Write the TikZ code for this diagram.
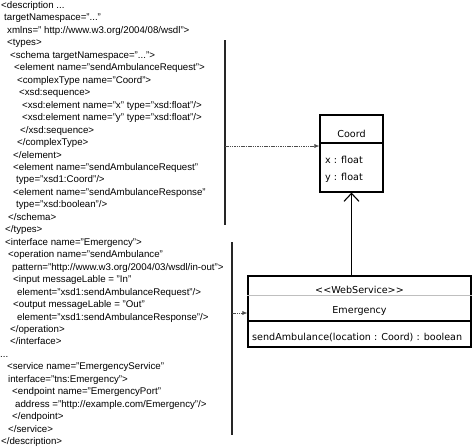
\documentclass[tikz,border=0pt]{standalone}
\usepackage{fontspec}
\setmainfont{Liberation Sans}
\newfontfamily\umlfont{DejaVu Sans}
\usetikzlibrary{arrows.meta}
\tikzset{
  code/.style={anchor=base west, inner sep=0pt, font=\fontsize{9.7}{12}\selectfont},
  umltext/.style={anchor=base, inner sep=0pt, font=\umlfont\fontsize{9.6}{12}\selectfont},
  umlleft/.style={anchor=base west, inner sep=0pt, font=\umlfont\fontsize{9.6}{12}\selectfont},
  umlbox/.style={draw, line width=1.1pt, inner sep=0pt},
  bracket/.style={line width=1.4pt, black!85},
  refarrow/.style={dash pattern=on 1.5pt off 0.8pt, line width=0.7pt, black!70, -{Latex[length=5pt,width=4pt]}},
  assoc/.style={line width=1.1pt, -{Straight Barb[length=8pt,width=15pt,line width=1.1pt]}}
}
\begin{document}
\begin{tikzpicture}[x=1pt,y=-1pt]
\useasboundingbox (0,0) rectangle (474,447);
\fill[white] (0,0) rectangle (474,447);
% code lines
\node[code] (l1)  at (1, 8.5) {<description ...};
\node[code] (l2)  at (4, 20.96) {targetNamespace="..."};
\node[code] (l3)  at (7, 33.42) {xmlns=" http://www.w3.org/2004/08/wsdl">};
\node[code] (l4)  at (7, 45.88) {<types>};
\node[code] (l5)  at (10, 58.34) {<schema targetNamespace="...">};
\node[code] (l6)  at (14, 70.80) {<element name="sendAmbulanceRequest">};
\node[code] (l7)  at (17, 83.26) {<complexType name="Coord">};
\node[code] (l8)  at (19, 95.72) {<xsd:sequence>};
\node[code] (l9)  at (22, 108.18) {<xsd:element name="x" type="xsd:float"/>};
\node[code] (l10) at (22, 120.64) {<xsd:element name="y" type="xsd:float"/>};
\node[code] (l11) at (20, 133.10) {</xsd:sequence>};
\node[code] (l12) at (17, 145.56) {</complexType>};
\node[code] (l13) at (13, 158.02) {</element>};
\node[code] (l14) at (13, 170.48) {<element name="sendAmbulanceRequest"};
\node[code] (l15) at (16, 182.94) {type="xsd1:Coord"/>};
\node[code] (l16) at (13, 195.40) {<element name="sendAmbulanceResponse"};
\node[code] (l17) at (16, 207.86) {type="xsd:boolean"/>};
\node[code] (l18) at (8, 220.32) {</schema>};
\node[code] (l19) at (5, 232.78) {</types>};
\node[code] (l20) at (5, 245.24) {<interface name="Emergency">};
\node[code] (l21) at (8, 257.70) {<operation name="sendAmbulance"};
\node[code] (l22) at (12, 270.16) {pattern="http://www.w3.org/2004/03/wsdl/in-out">};
\node[code] (l23) at (13, 282.62) {<input messageLable = "In"};
\node[code] (l24) at (17, 295.08) {element="xsd1:sendAmbulanceRequest"/>};
\node[code] (l25) at (13, 307.54) {<output messageLable = "Out"};
\node[code] (l26) at (17, 320.00) {element="xsd1:sendAmbulanceResponse"/>};
\node[code] (l27) at (10, 332.46) {</operation>};
\node[code] (l28) at (10, 344.92) {</interface>};
\node[code] (l29) at (0, 357.38) {...};
\node[code] (l30) at (7, 369.84) {<service name="EmergencyService"};
\node[code] (l31) at (8, 382.30) {interface="tns:Emergency">};
\node[code] (l32) at (12, 394.76) {<endpoint name="EmergencyPort"};
\node[code] (l33) at (15, 407.22) {address ="http://example.com/Emergency"/>};
\node[code] (l34) at (12, 419.68) {</endpoint>};
\node[code] (l35) at (8, 432.14) {</service>};
\node[code] (l36) at (1, 444.60) {</description>};
% brackets
\coordinate (b1t) at (225,40);
\coordinate (b1b) at (225,225);
\coordinate (b1m) at (225,146);
\coordinate (b2t) at (232,242);
\coordinate (b2b) at (232,435);
\coordinate (b2m) at (232,313);
\draw[bracket] (b1t) -- (b1b);
\draw[bracket] (b2t) -- (b2b);
% Coord class
\node[umlbox, minimum width=63pt, minimum height=77pt] (coord) at (351.5,153.5) {};
\draw[line width=1.1pt] (coord.west |- 0,143) -- (coord.east |- 0,143);
\node[umltext] (coordname) at (351.5,137) {Coord};
\node[umlleft] (cx) at (325,163) {x : float};
\node[umlleft] (cy) at (325,180.5) {y : float};
% Emergency class
\node[umlbox, minimum width=223pt, minimum height=71pt] (emerg) at (359.5,311.5) {};
\draw[line width=0.5pt, black!25] (emerg.west |- 0,295) -- (emerg.east |- 0,295);
\draw[line width=1.1pt] (emerg.west |- 0,321) -- (emerg.east |- 0,321);
\node[umltext] (stereo) at (359.5,293) {<<WebService>>};
\node[umltext] (ename) at (359.5,313) {Emergency};
\node[umlleft] (eop) at (252,340) {sendAmbulance(location : Coord) : boolean};
% connectors
\draw[refarrow] (b1m) -- (b1m -| coord.west);
\draw[refarrow] (b2m) -- (b2m -| emerg.west);
\draw[assoc] (coord.south |- emerg.north) -- (coord.south);
\end{tikzpicture}
\end{document}
